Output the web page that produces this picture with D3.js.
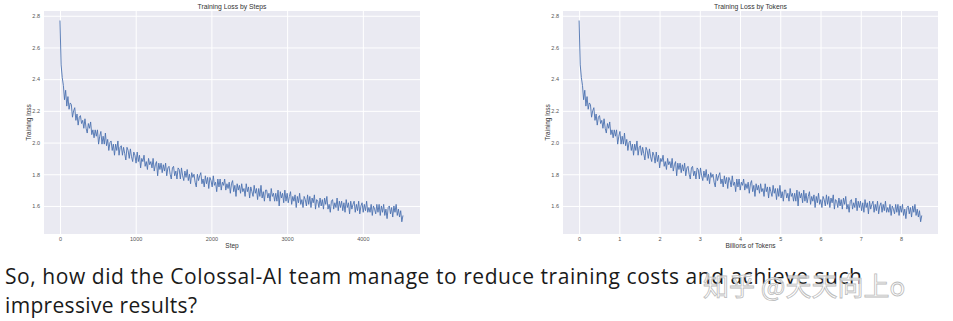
<!DOCTYPE html>
<html>
<head>
<meta charset="utf-8">
<script src="https://cdn.jsdelivr.net/npm/d3@7"></script>
<style>
  body { margin: 0; background: #fff; }
  svg { display: block; }
</style>
</head>
<body>
<script>
// loss, one value every 15 steps
const stepStride = 15
const loss = [
  2.77, 2.49, 2.41, 2.36, 2.27, 2.33, 2.23, 2.29, 2.21, 2.25,
  2.24, 2.16, 2.20, 2.22, 2.14, 2.18, 2.11, 2.16, 2.17, 2.12,
  2.14, 2.09, 2.15, 2.09, 2.06, 2.12, 2.09, 2.13, 2.05, 2.08,
  2.03, 2.08, 2.04, 2.08, 1.99, 2.04, 2.07, 1.99, 2.04, 1.99,
  2.06, 1.98, 2.02, 1.95, 2.00, 2.01, 1.95, 1.99, 1.92, 1.99,
  1.95, 2.01, 1.92, 1.97, 1.98, 1.92, 1.97, 1.93, 1.89, 1.97,
  1.95, 1.90, 1.96, 1.91, 1.88, 1.94, 1.92, 1.87, 1.94, 1.88,
  1.92, 1.84, 1.90, 1.88, 1.92, 1.85, 1.88, 1.83, 1.90, 1.86,
  1.88, 1.84, 1.90, 1.82, 1.86, 1.88, 1.79, 1.87, 1.83, 1.87,
  1.81, 1.86, 1.82, 1.87, 1.79, 1.84, 1.85, 1.80, 1.77, 1.84,
  1.85, 1.79, 1.82, 1.77, 1.84, 1.83, 1.77, 1.84, 1.79, 1.76,
  1.82, 1.78, 1.83, 1.76, 1.80, 1.74, 1.81, 1.78, 1.80, 1.75,
  1.72, 1.80, 1.76, 1.79, 1.81, 1.74, 1.77, 1.72, 1.79, 1.74,
  1.78, 1.71, 1.78, 1.76, 1.72, 1.79, 1.73, 1.75, 1.69, 1.77,
  1.72, 1.77, 1.70, 1.75, 1.73, 1.77, 1.70, 1.74, 1.71, 1.75,
  1.68, 1.74, 1.76, 1.69, 1.73, 1.66, 1.74, 1.70, 1.73, 1.68,
  1.74, 1.69, 1.71, 1.66, 1.74, 1.69, 1.72, 1.65, 1.72, 1.69,
  1.66, 1.73, 1.68, 1.71, 1.64, 1.71, 1.66, 1.73, 1.65, 1.69,
  1.63, 1.70, 1.70, 1.65, 1.68, 1.63, 1.71, 1.66, 1.68, 1.63,
  1.68, 1.63, 1.70, 1.60, 1.69, 1.65, 1.68, 1.62, 1.70, 1.63,
  1.68, 1.62, 1.66, 1.69, 1.61, 1.66, 1.63, 1.67, 1.59, 1.66,
  1.62, 1.68, 1.61, 1.64, 1.59, 1.66, 1.64, 1.60, 1.67, 1.61,
  1.66, 1.59, 1.65, 1.62, 1.67, 1.58, 1.64, 1.63, 1.59, 1.65,
  1.60, 1.64, 1.58, 1.65, 1.61, 1.66, 1.58, 1.61, 1.56, 1.63,
  1.64, 1.58, 1.62, 1.59, 1.65, 1.57, 1.63, 1.59, 1.63, 1.57,
  1.62, 1.56, 1.64, 1.59, 1.62, 1.55, 1.63, 1.58, 1.61, 1.63,
  1.56, 1.61, 1.57, 1.63, 1.55, 1.60, 1.62, 1.56, 1.61, 1.57,
  1.63, 1.56, 1.59, 1.56, 1.61, 1.54, 1.60, 1.58, 1.55, 1.61,
  1.56, 1.61, 1.54, 1.60, 1.56, 1.61, 1.54, 1.58, 1.52, 1.59,
  1.60, 1.55, 1.59, 1.53, 1.60, 1.56, 1.61, 1.54, 1.58, 1.53,
  1.57, 1.50, 1.54
]
const billionTokensPerStep = 0.00188

const yTicks = [1.6, 1.8, 2.0, 2.2, 2.4, 2.6, 2.8]
const stepTicks = [0, 1000, 2000, 3000, 4000]
const tokenTicks = [0, 1, 2, 3, 4, 5, 6, 7, 8]

const steps = loss.map((d, i) => i * stepStride)
const tokens = steps.map(s => s * billionTokensPerStep)

const W = 953, H = 321
const svg = d3.select('body').append('svg')
  .attr('width', W).attr('height', H)

const panels = [
  { title: 'Training Loss by Steps', xLabel: 'Step', xs: steps, ticks: stepTicks,
    domain: [-211, 4755], left: 44, right: 420, yLabelX: 29 },
  { title: 'Training Loss by Tokens', xLabel: 'Billions of Tokens', xs: tokens, ticks: tokenTicks,
    domain: [-0.4, 8.92], left: 563, right: 938, yLabelX: 548 }
]
const plotTop = 11, plotBottom = 234
const y = d3.scaleLinear().domain([1.423, 2.83]).range([plotBottom, plotTop])
const font = 'Liberation Sans, Arial, sans-serif'

panels.forEach(p => {
  const x = d3.scaleLinear().domain(p.domain).range([p.left, p.right])
  const g = svg.append('g')

  g.append('rect')
    .attr('x', p.left).attr('y', plotTop)
    .attr('width', p.right - p.left).attr('height', plotBottom - plotTop)
    .attr('fill', '#eaeaf2')

  // grid
  g.append('g').attr('transform', `translate(0,${plotBottom})`)
    .call(d3.axisBottom(x).tickValues(p.ticks).tickSize(-(plotBottom - plotTop)).tickFormat(''))
    .call(a => a.select('.domain').remove())
    .call(a => a.selectAll('line').attr('stroke', '#fff').attr('stroke-width', 1))
  g.append('g').attr('transform', `translate(${p.left},0)`)
    .call(d3.axisLeft(y).tickValues(yTicks).tickSize(-(p.right - p.left)).tickFormat(''))
    .call(a => a.select('.domain').remove())
    .call(a => a.selectAll('line').attr('stroke', '#fff').attr('stroke-width', 1))

  // tick labels
  g.append('g').attr('transform', `translate(0,${plotBottom})`)
    .call(d3.axisBottom(x).tickValues(p.ticks).tickSize(0).tickPadding(3).tickFormat(d3.format('d')))
    .call(a => a.select('.domain').remove())
    .call(a => a.selectAll('text').attr('font-family', font)
      .attr('font-size', 5.5).attr('fill', '#555'))
  g.append('g').attr('transform', `translate(${p.left},0)`)
    .call(d3.axisLeft(y).tickValues(yTicks).tickSize(0).tickPadding(4).tickFormat(d3.format('.1f')))
    .call(a => a.select('.domain').remove())
    .call(a => a.selectAll('text').attr('font-family', font)
      .attr('font-size', 5.5).attr('fill', '#555'))

  const line = d3.line().x((d, i) => x(p.xs[i])).y(d => y(d))
  g.append('path')
    .datum(loss)
    .attr('d', line)
    .attr('fill', 'none')
    .attr('stroke', '#4c72b0')
    .attr('stroke-width', 0.9)
    .attr('stroke-linejoin', 'round')

  const mid = (p.left + p.right) / 2
  g.append('text').text(p.title)
    .attr('x', mid).attr('y', 9)
    .attr('text-anchor', 'middle')
    .attr('font-family', font)
    .attr('font-size', 6.8).attr('fill', '#333')
  g.append('text').text(p.xLabel)
    .attr('x', mid).attr('y', 248)
    .attr('text-anchor', 'middle')
    .attr('font-family', font)
    .attr('font-size', 6.5).attr('fill', '#333')
  g.append('text').text('Training loss')
    .attr('transform', `translate(${p.yLabelX + 2},${(plotTop + plotBottom) / 2}) rotate(-90)`)
    .attr('text-anchor', 'middle')
    .attr('font-family', font)
    .attr('font-size', 6.5).attr('fill', '#333')
})

// paragraph under the figure
const para = ['So, how did the Colossal-AI team manage to reduce training costs and achieve such',
              'impressive results?']
const paraWidths = [857, 192]
para.forEach((t, i) => {
  svg.append('text').text(t)
    .attr('x', 5).attr('y', 284 + i * 29)
    .attr('textLength', paraWidths[i])
    .attr('lengthAdjust', 'spacing')
    .attr('font-family', 'Open Sans, sans-serif')
    .attr('font-size', 21).attr('fill', '#1a1a1a')
})

svg.append('text').text('知乎 @天天向上o')
  .attr('x', 703).attr('y', 296)
  .attr('font-family', 'Noto Sans CJK SC')
  .attr('font-size', 26)
  .attr('fill', '#fff').attr('fill-opacity', 0.75)
  .attr('stroke', '#bbb').attr('stroke-width', 0.8)
</script>
</body>
</html>
